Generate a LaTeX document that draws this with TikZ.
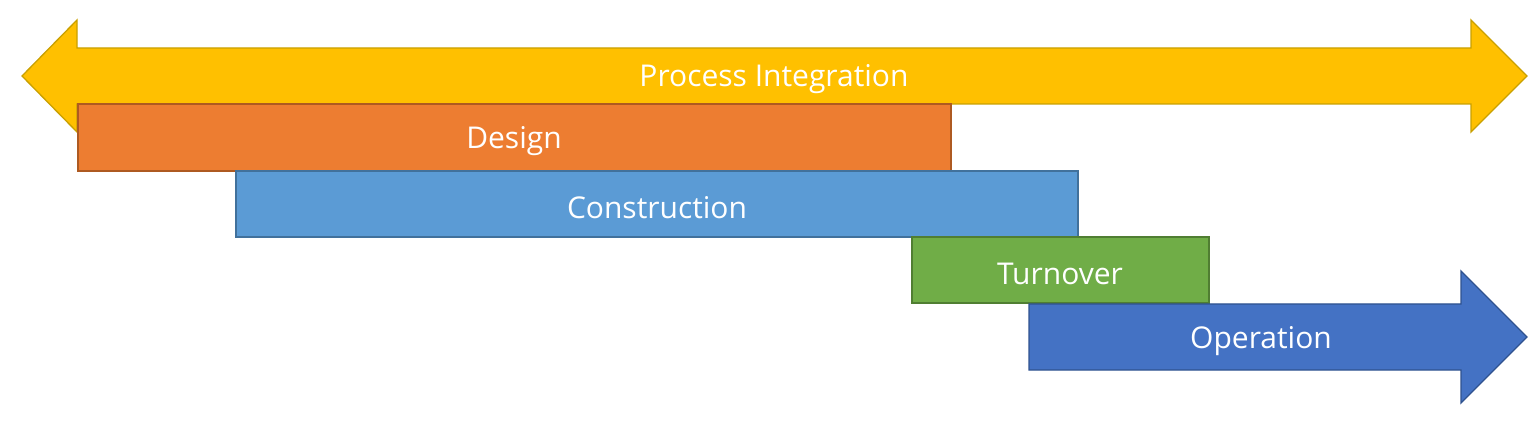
\documentclass[tikz,border=0pt]{standalone}
\usepackage{fontspec}
\setmainfont{Open Sans}
\definecolor{yel}{HTML}{FFC000}
\definecolor{yelD}{HTML}{C9A000}
\definecolor{ora}{HTML}{ED7D31}
\definecolor{oraD}{HTML}{AE5A21}
\definecolor{lbl}{HTML}{5B9BD5}
\definecolor{lblD}{HTML}{41719C}
\definecolor{grn}{HTML}{70AD47}
\definecolor{grnD}{HTML}{507E32}
\definecolor{dbl}{HTML}{4472C4}
\definecolor{dblD}{HTML}{2F528F}
\tikzset{
  shp/.style={line width=1.3pt, line join=miter},
  lbl/.style={text=white, font=\fontsize{30}{32}\selectfont, inner sep=0pt}
}
\begin{document}
\begin{tikzpicture}[x=1pt,y=-1pt]
\useasboundingbox (0,0) rectangle (1536,427);
% Process Integration double arrow
\draw[shp, fill=yel, draw=yelD] (22,76) -- (77,20) -- (77,48) -- (1471,48) -- (1471,20) -- (1527,76)
  -- (1471,132) -- (1471,104) -- (77,104) -- (77,132) -- cycle;
\node[lbl] (pi) at (774,79) {Process Integration};
% Design
\draw[shp, fill=ora, draw=oraD] (78,104) rectangle (951,171);
\node[lbl] (design) at (514,141) {Design};
% Construction
\draw[shp, fill=lbl, draw=lblD] (236,171) rectangle (1078,237);
\node[lbl] (cons) at (657,208) {Construction};
% Turnover
\draw[shp, fill=grn, draw=grnD] (912,237) rectangle (1209,303);
\node[lbl] (turn) at (1060,274) {Turnover};
% Operation arrow
\draw[shp, fill=dbl, draw=dblD] (1029,304) -- (1461,304) -- (1461,271) -- (1527,337) -- (1461,403)
  -- (1461,370) -- (1029,370) -- cycle;
\node[lbl] (op) at (1261,341) {Operation};
\end{tikzpicture}
\end{document}
